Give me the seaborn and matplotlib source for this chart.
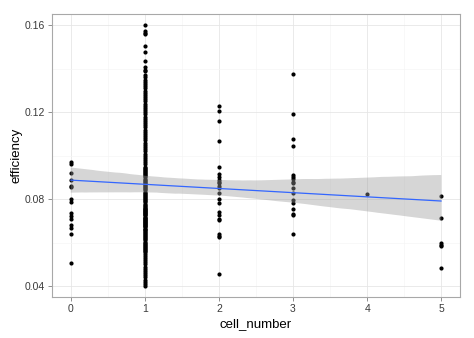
import matplotlib
matplotlib.use("Agg")
import matplotlib.pyplot as plt
import matplotlib.collections as mcoll
import seaborn as sns
import pandas as pd
from matplotlib.ticker import MultipleLocator

# ---- data ----
eff_0 = [0.0970, 0.0962, 0.0920, 0.0888, 0.0862, 0.0854, 0.0801, 0.0785,
         0.0737, 0.0722, 0.0711, 0.0679, 0.0666, 0.0642, 0.0506]
eff_1 = [0.1600, 0.1576, 0.1565, 0.1560, 0.1503, 0.1475, 0.1434, 0.1406,
         0.1396, 0.1388,
         0.137, 0.136, 0.135, 0.134, 0.133, 0.132, 0.131, 0.130, 0.129, 0.128,
         0.127, 0.126, 0.125, 0.124, 0.123, 0.122, 0.121, 0.120, 0.119, 0.118,
         0.117, 0.116, 0.115, 0.114, 0.113, 0.112, 0.111, 0.110, 0.109, 0.108,
         0.107, 0.106, 0.105, 0.104, 0.103, 0.102, 0.101, 0.100, 0.099, 0.098,
         0.097, 0.096, 0.095, 0.094, 0.093, 0.092, 0.091, 0.090, 0.089, 0.088,
         0.087, 0.086, 0.085, 0.084, 0.083, 0.082, 0.081, 0.080, 0.079, 0.078,
         0.077, 0.076, 0.075, 0.074, 0.073, 0.072, 0.071, 0.070, 0.069, 0.068,
         0.067, 0.066, 0.065, 0.064, 0.063, 0.062, 0.061, 0.060, 0.059, 0.058,
         0.057, 0.056, 0.055, 0.054, 0.053, 0.052, 0.051, 0.050, 0.049, 0.048,
         0.047, 0.046, 0.045, 0.044, 0.043, 0.042, 0.041, 0.040,
         0.0945, 0.0935, 0.0925, 0.0915, 0.0905, 0.0895, 0.0885, 0.0875,
         0.0865, 0.0855, 0.0845, 0.0835, 0.0825, 0.0815, 0.0805, 0.0795,
         0.0785, 0.0775, 0.0765, 0.0755, 0.0745, 0.0735, 0.0725, 0.0715,
         0.0705, 0.0695, 0.0685, 0.0675, 0.0665, 0.0655, 0.0645, 0.0635,
         0.0625, 0.0615, 0.0605, 0.0595, 0.0585, 0.0575, 0.0565, 0.0555,
         0.0755, 0.0745, 0.0735, 0.0725, 0.0715, 0.0705, 0.0695, 0.0685,
         0.0675, 0.0665]
eff_2 = [0.1229, 0.1206, 0.1160, 0.1068, 0.0949, 0.0916, 0.0903, 0.0888,
         0.0880, 0.0873, 0.0860, 0.0850, 0.0829, 0.0803, 0.0783, 0.0739,
         0.0726, 0.0711, 0.0703, 0.0639, 0.0630, 0.0624, 0.0457]
eff_3 = [0.1377, 0.1194, 0.1079, 0.1045, 0.0912, 0.0903, 0.0893, 0.0880,
         0.0873, 0.0852, 0.0829, 0.0796, 0.0783, 0.0754, 0.0734, 0.0726,
         0.0642]
eff_4 = [0.0822]
eff_5 = [0.0814, 0.0714, 0.0600, 0.0590, 0.0583, 0.0483]

groups = [eff_0, eff_1, eff_2, eff_3, eff_4, eff_5]
cell_numbers = [0, 1, 2, 3, 4, 5]
x_ticks = [0, 1, 2, 3, 4, 5]
y_ticks = [0.04, 0.08, 0.12, 0.16]
y_tick_labels = ["0.04", "0.08", "0.12", "0.16"]

rows = []
for c, vals in zip(cell_numbers, groups):
    for v in vals:
        rows.append((c, v))
df = pd.DataFrame(rows, columns=["cell_number", "efficiency"])

# ---- plot ----
sns.set_theme(style="white")
plt.rcParams["font.family"] = ["Liberation Sans", "DejaVu Sans"]

fig = plt.figure(figsize=(4.74, 3.38), dpi=100)
ax = fig.add_axes([0.110, 0.1213, 0.860, 0.8373])

sns.scatterplot(data=df, x="cell_number", y="efficiency", ax=ax,
                color="black", s=9, linewidth=0, zorder=3)
sns.regplot(data=df, x="cell_number", y="efficiency", ax=ax, scatter=False,
            color="#3366FF", line_kws={"linewidth": 0.9, "zorder": 5},
            n_boot=1000, seed=1, ci=95)
for coll in ax.collections:
    if isinstance(coll, mcoll.PolyCollection):
        coll.set_alpha(None)
        coll.set_facecolor((0.6, 0.6, 0.6, 0.4))
        coll.set_edgecolor("none")
        coll.set_zorder(4)

ax.set_xlim(-0.25, 5.25)
ax.set_ylim(0.0350, 0.1652)
ax.set_xticks(x_ticks)
ax.set_yticks(y_ticks)
ax.set_yticklabels(y_tick_labels)
ax.xaxis.set_minor_locator(MultipleLocator(0.5))
ax.yaxis.set_minor_locator(MultipleLocator(0.02))

ax.grid(True, which="major", color="#e6e6e6", linewidth=0.6, zorder=0)
ax.grid(True, which="minor", color="#f5f5f5", linewidth=0.5, zorder=0)
ax.set_axisbelow(True)

for sp in ax.spines.values():
    sp.set_visible(True)
    sp.set_color("#a8a8a8")
    sp.set_linewidth(0.8)

ax.tick_params(axis="both", which="major", length=3, width=0.6,
               color="#7f7f7f", labelsize=7.5, labelcolor="#3a3a3a", pad=2,
               bottom=True, left=True)
ax.tick_params(axis="both", which="minor", length=0)

ax.set_xlabel("cell_number", fontsize=9.5, color="black", labelpad=3)
ax.set_ylabel("efficiency", fontsize=9.5, color="black", labelpad=1.5)

fig.savefig("out.png", dpi=100)
